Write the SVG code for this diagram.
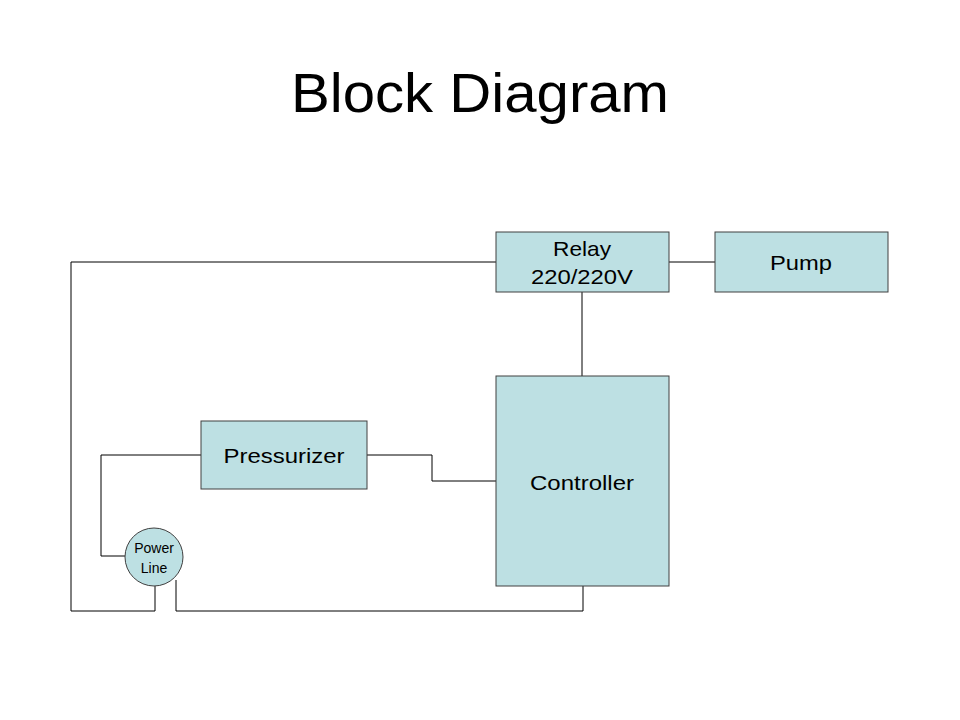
<svg xmlns="http://www.w3.org/2000/svg" width="960" height="720" viewBox="0 0 960 720">
<style>
.b{fill:#bde0e3;stroke:#404040;stroke-width:1}
.t{font-family:"Liberation Sans",Arial,sans-serif;fill:#000;text-anchor:middle}
.c{fill:none;stroke:#000;stroke-width:1}
</style>
<rect width="960" height="720" fill="#fff"/>
<text class="t" x="480" y="112" font-size="56" textLength="378" lengthAdjust="spacingAndGlyphs">Block Diagram</text>
<g id="connectors">
<polyline class="c" points="496,262 71,262 71,611 155,611 155,586"/>
<line class="c" x1="669" y1="262" x2="715" y2="262"/>
<line class="c" x1="582" y1="292" x2="582" y2="376"/>
<polyline class="c" points="367,455 432,455 432,481 496,481"/>
<polyline class="c" points="201,455 101,455 101,556 125,556"/>
<polyline class="c" points="176,580 176,611 583,611 583,586"/>
</g>
<g id="relay"><rect class="b" x="496" y="232" width="173" height="60"/><text class="t" x="582" y="256" font-size="21" textLength="58" lengthAdjust="spacingAndGlyphs">Relay</text><text class="t" x="582" y="284" font-size="21" textLength="102" lengthAdjust="spacingAndGlyphs">220/220V</text></g>
<g id="pump"><rect class="b" x="715" y="232" width="173" height="60"/><text class="t" x="801" y="270" font-size="21" textLength="62" lengthAdjust="spacingAndGlyphs">Pump</text></g>
<g id="controller"><rect class="b" x="496" y="376" width="173" height="210"/><text class="t" x="582" y="490" font-size="21" textLength="104" lengthAdjust="spacingAndGlyphs">Controller</text></g>
<g id="pressurizer"><rect class="b" x="201" y="421" width="166" height="68"/><text class="t" x="284" y="463" font-size="21" textLength="121" lengthAdjust="spacingAndGlyphs">Pressurizer</text></g>
<g id="powerline"><circle class="b" cx="154" cy="557" r="29"/><text class="t" x="154" y="553" font-size="14">Power</text><text class="t" x="154" y="573" font-size="14">Line</text></g>
</svg>
